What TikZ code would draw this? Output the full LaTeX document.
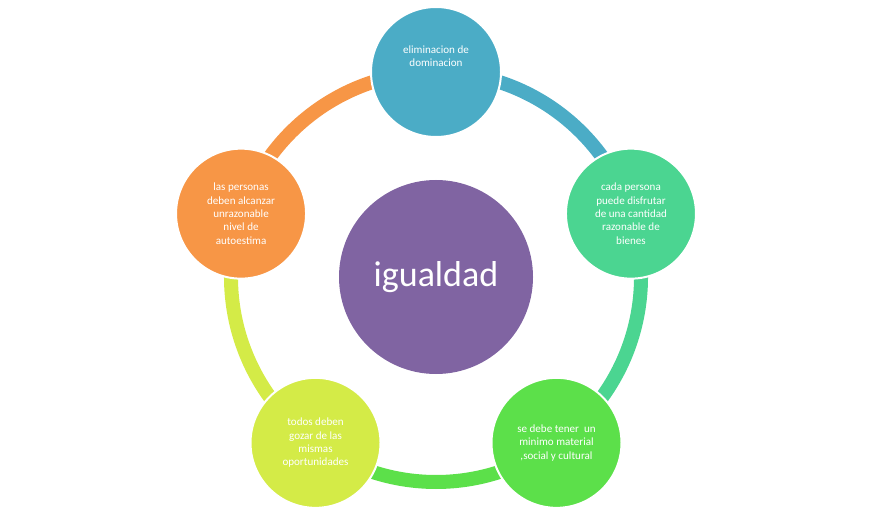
\documentclass[tikz,border=0pt]{standalone}
\usepackage{fontspec}
\setmainfont{Carlito}
\usetikzlibrary{positioning, calc}
\definecolor{cBlue}{HTML}{4BACC6}
\definecolor{cTeal}{HTML}{4BD591}
\definecolor{cGreen}{HTML}{5CE04A}
\definecolor{cLime}{HTML}{D4EB47}
\definecolor{cOrange}{HTML}{F79646}
\definecolor{cPurple}{HTML}{8064A2}
\tikzset{
every outer/.style={circle, minimum size=97.5pt, inner sep=0pt, draw=white, line width=1.5pt, text=white, align=center, font=\fontsize{8.3}{10}\selectfont}, % the five small circles
ring/.style={line width=10.5pt}, % the arcs between them
}
\begin{document}
\begin{tikzpicture}[x=0.75pt, y=0.75pt]
            \useasboundingbox (0,0) rectangle (874,522);
            \coordinate (c) at (436,245);
            % ring segments
            \draw[ring, cBlue] ($(c)+(90:205)$) arc (90:18:205);
            \draw[ring, cTeal] ($(c)+(18:205)$) arc (18:-54:205);
            \draw[ring, cGreen] ($(c)+(-54:205)$) arc (-54:-126:205);
            \draw[ring, cLime] ($(c)+(-126:205)$) arc (-126:-198:205);
            \draw[ring, cOrange] ($(c)+(162:205)$) arc (162:90:205);
            \node[circle, minimum size=145.5pt, fill=cPurple, text=white, font=\fontsize{27}{30}\selectfont] (center) at (c) {igualdad};
            \node[every outer, fill=cBlue] (top) at ($(c)+(90:205)$) {eliminacion de\\dominacion\\[14pt]};
            \node[every outer, fill=cTeal] (right) at ($(c)+(18:205)$) {cada persona\\puede disfrutar\\de una cantidad\\razonable de\\bienes};
            \node[every outer, fill=cGreen] (bright) at ($(c)+(-54:205)$) {se debe tener \ un\\minimo material\\,social y cultural};
            \node[every outer, fill=cLime] (bleft) at ($(c)+(-126:205)$) {todos deben\\gozar de las\\mismas\\oportunidades};
            \node[every outer, fill=cOrange] (left) at ($(c)+(162:205)$) {las personas\\deben alcanzar\\unrazonable\\nivel de\\autoestima};
\end{tikzpicture}
\end{document}
